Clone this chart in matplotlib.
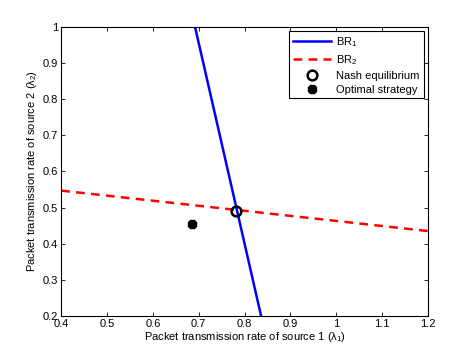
import numpy as np
import matplotlib
matplotlib.use('Agg')
import matplotlib.pyplot as plt
from matplotlib.ticker import FuncFormatter

# best response lines (endpoints)
br1_x = [0.692, 0.836]
br1_y = [1.0, 0.2]
br2_x = [0.4, 1.2]
br2_y = [0.547, 0.435]

nash_x = [0.781]
nash_y = [0.491]
opt_x = [0.686]
opt_y = [0.455]

xticks = [0.4, 0.5, 0.6, 0.7, 0.8, 0.9, 1.0, 1.1, 1.2]
yticks = [0.2, 0.3, 0.4, 0.5, 0.6, 0.7, 0.8, 0.9, 1.0]

plt.rcParams['font.family'] = ['Liberation Sans', 'DejaVu Sans']
plt.rcParams['mathtext.fontset'] = 'custom'
plt.rcParams['mathtext.rm'] = 'Liberation Sans'
plt.rcParams['mathtext.it'] = 'Liberation Sans'
plt.rcParams['font.size'] = 8
plt.rcParams['xtick.direction'] = 'in'
plt.rcParams['ytick.direction'] = 'in'
plt.rcParams['xtick.top'] = True
plt.rcParams['ytick.right'] = True
plt.rcParams['xtick.major.size'] = 3
plt.rcParams['ytick.major.size'] = 3

fig = plt.figure(figsize=(4.74, 3.55), dpi=100)
ax = fig.add_axes([0.129, 0.110, 0.774, 0.814])

ax.plot(br1_x, br1_y, color='#0000ff', lw=1.8, label='BR$_1$')
ax.plot(br2_x, br2_y, color='#ff0000', lw=1.8, ls=(0, (3.5, 2.5)), label='BR$_2$')
ax.plot(nash_x, nash_y, 'o', mfc='none', mec='black', mew=1.8, ms=7, label='Nash equilibrium')
ax.plot(opt_x, opt_y, '8', color='black', ms=6, label='Optimal strategy')

ax.set_xlim(0.4, 1.2)
ax.set_ylim(0.2, 1.0)
ax.set_xticks(xticks)
ax.set_yticks(yticks)
fmt = FuncFormatter(lambda v, p: '%g' % round(v, 2))
ax.xaxis.set_major_formatter(fmt)
ax.yaxis.set_major_formatter(fmt)
ax.tick_params(pad=2, width=0.6)
for s in ax.spines.values():
    s.set_linewidth(0.8)

ax.set_xlabel(r'Packet transmission rate of source 1 ($\lambda_1$)', labelpad=1)
ax.set_ylabel(r'Packet transmission rate of source 2 ($\lambda_2$)', labelpad=3)

leg = ax.legend(loc='upper right', fancybox=False, edgecolor='black',
                framealpha=1, borderaxespad=0.4, handlelength=3.4,
                labelspacing=0.35, borderpad=0.35, handletextpad=0.5)
leg.get_frame().set_linewidth(0.8)

plt.savefig('out.png', dpi=100)
